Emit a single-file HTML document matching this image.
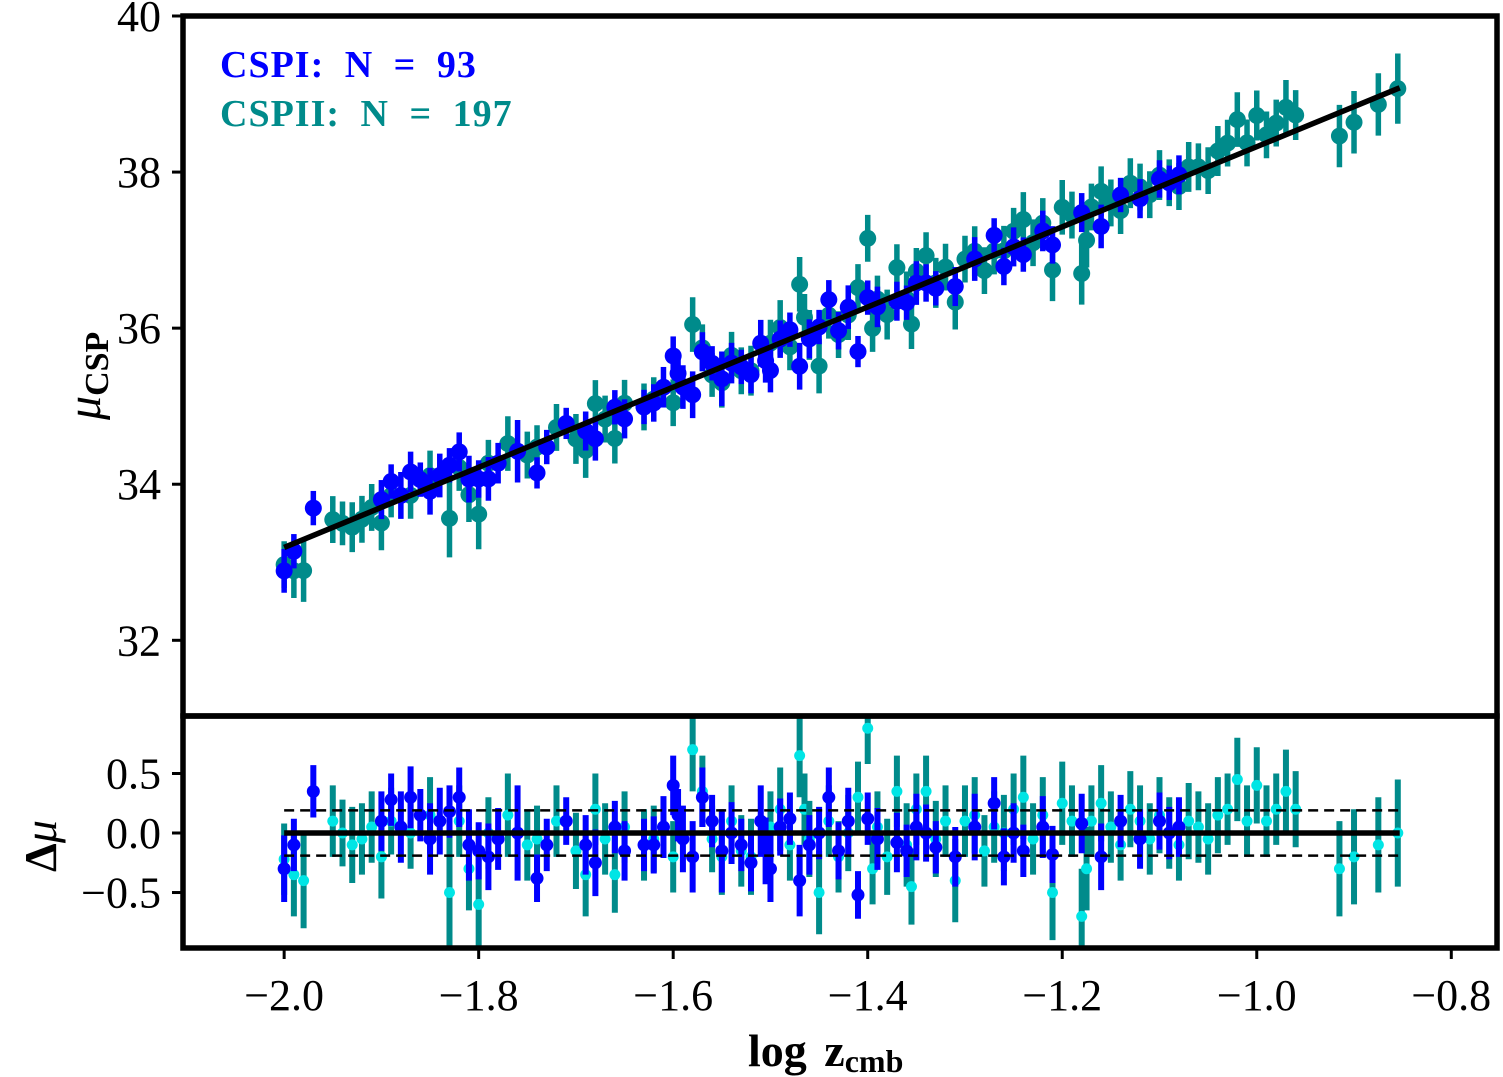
<!DOCTYPE html>
<html><head><meta charset="utf-8"><style>
html,body{margin:0;padding:0;background:#fff}
svg{display:block}
text{font-family:"Liberation Serif",serif}
</style></head><body>
<svg id="chart" width="1503" height="1077" viewBox="0 0 1503 1077" xmlns="http://www.w3.org/2000/svg"></svg>
<script>
const fitX=[-2.0,-0.853];
const fitMu=[33.19,39.08];
const xTicks=[-2.0,-1.8,-1.6,-1.4,-1.2,-1.0,-0.8];
const xTickLabels=["\u22122.0","\u22121.8","\u22121.6","\u22121.4","\u22121.2","\u22121.0","\u22120.8"];
const topTicks=[32,34,36,38,40];
const topTickLabels=["32","34","36","38","40"];
const botTicks=[0.5,0,-0.5];
const botTickLabels=["0.5","0.0","\u22120.5"];
const blueX=[-2.00,-1.99,-1.97,-1.90,-1.89,-1.88,-1.87,-1.86,-1.85,-1.84,-1.83,-1.82,-1.81,-1.80,-1.79,-1.78,-1.76,-1.74,-1.73,-1.71,-1.69,-1.68,-1.66,-1.65,-1.63,-1.62,-1.61,-1.60,-1.595,-1.59,-1.58,-1.57,-1.56,-1.55,-1.54,-1.53,-1.52,-1.51,-1.505,-1.50,-1.49,-1.48,-1.47,-1.46,-1.45,-1.44,-1.43,-1.42,-1.41,-1.40,-1.39,-1.37,-1.36,-1.35,-1.34,-1.33,-1.31,-1.29,-1.27,-1.26,-1.25,-1.24,-1.22,-1.21,-1.18,-1.16,-1.14,-1.12,-1.10,-1.09,-1.08];
const blueRes=[-0.30,-0.10,0.35,0.10,0.28,0.05,0.30,0.15,-0.05,0.10,0.18,0.30,-0.10,-0.15,-0.20,-0.05,0.00,-0.38,-0.10,0.10,-0.10,-0.25,0.05,-0.15,-0.10,-0.10,0.05,0.40,0.15,-0.05,-0.20,0.30,0.10,-0.15,0.00,-0.10,-0.25,0.10,-0.15,-0.30,0.05,0.12,-0.40,-0.10,0.00,0.30,-0.15,0.10,-0.52,0.12,-0.05,-0.08,-0.15,0.05,0.00,-0.12,-0.20,0.05,0.25,-0.20,0.00,-0.15,0.05,-0.18,0.08,-0.20,0.10,-0.05,0.10,0.00,0.05];
const blueErr=[0.28,0.22,0.22,0.25,0.22,0.30,0.26,0.22,0.30,0.28,0.22,0.25,0.30,0.24,0.28,0.26,0.40,0.20,0.22,0.20,0.25,0.28,0.22,0.25,0.22,0.24,0.26,0.25,0.22,0.28,0.30,0.25,0.22,0.35,0.26,0.22,0.24,0.30,0.28,0.28,0.24,0.22,0.30,0.25,0.22,0.25,0.24,0.28,0.20,0.22,0.26,0.25,0.22,0.28,0.24,0.22,0.25,0.28,0.22,0.24,0.25,0.22,0.26,0.24,0.25,0.28,0.22,0.25,0.24,0.22,0.25];
const tealX=[-2.00,-1.99,-1.98,-1.95,-1.94,-1.93,-1.92,-1.91,-1.90,-1.89,-1.87,-1.85,-1.83,-1.82,-1.81,-1.80,-1.79,-1.77,-1.75,-1.74,-1.72,-1.70,-1.69,-1.68,-1.67,-1.66,-1.65,-1.63,-1.62,-1.60,-1.58,-1.57,-1.56,-1.55,-1.54,-1.53,-1.52,-1.50,-1.49,-1.48,-1.47,-1.465,-1.46,-1.45,-1.44,-1.43,-1.42,-1.41,-1.40,-1.395,-1.39,-1.38,-1.37,-1.36,-1.355,-1.35,-1.34,-1.33,-1.32,-1.31,-1.30,-1.29,-1.28,-1.27,-1.26,-1.25,-1.24,-1.23,-1.22,-1.21,-1.20,-1.19,-1.18,-1.175,-1.17,-1.16,-1.15,-1.14,-1.13,-1.12,-1.11,-1.10,-1.09,-1.08,-1.07,-1.06,-1.05,-1.04,-1.03,-1.02,-1.01,-1.00,-0.99,-0.98,-0.97,-0.96,-0.915,-0.90,-0.875,-0.855];
const tealRes=[-0.22,-0.35,-0.40,0.10,0.00,-0.10,-0.05,0.05,-0.20,0.10,0.00,0.15,-0.50,0.10,-0.30,-0.60,0.00,0.15,-0.10,-0.05,0.10,-0.15,-0.35,0.20,-0.05,-0.35,0.05,-0.10,-0.05,-0.20,0.70,0.35,-0.05,-0.20,0.10,-0.15,-0.20,0.05,0.20,-0.10,0.65,0.20,-0.05,-0.50,0.10,-0.20,0.00,0.30,0.88,-0.30,0.05,-0.20,0.35,-0.10,-0.45,0.20,0.35,-0.05,0.10,-0.40,0.10,0.15,-0.15,0.05,0.00,0.20,0.30,-0.05,0.15,-0.50,0.25,0.10,-0.70,-0.30,0.10,0.25,0.05,-0.10,0.20,0.10,-0.05,0.15,0.00,-0.10,0.10,0.05,-0.05,0.15,0.20,0.45,0.10,0.40,0.10,0.20,0.35,0.20,-0.30,-0.20,-0.10,0.00];
const tealErr=[0.30,0.35,0.40,0.30,0.28,0.32,0.30,0.30,0.35,0.28,0.30,0.32,0.50,0.30,0.35,0.45,0.30,0.35,0.30,0.28,0.30,0.32,0.35,0.30,0.30,0.32,0.30,0.30,0.28,0.30,0.35,0.30,0.28,0.32,0.30,0.30,0.32,0.30,0.35,0.30,0.35,0.30,0.32,0.35,0.30,0.30,0.32,0.30,0.30,0.30,0.30,0.32,0.30,0.35,0.32,0.30,0.30,0.32,0.30,0.35,0.30,0.32,0.30,0.30,0.32,0.30,0.35,0.30,0.32,0.40,0.35,0.30,0.40,0.35,0.30,0.32,0.30,0.30,0.32,0.30,0.30,0.32,0.30,0.30,0.32,0.30,0.30,0.32,0.30,0.35,0.30,0.32,0.30,0.30,0.35,0.32,0.40,0.40,0.40,0.45];

const NS="http://www.w3.org/2000/svg";
const svg=document.getElementById('chart');
const L=183,R=1497,T1=16,B1=716,B2=948;
const xMin=-2.104,xMax=-0.753;
const sx=v=>L+(v-xMin)/(xMax-xMin)*(R-L);
const syTop=v=>T1+(40-v)/(40-31.03)*(B1-T1);
const syBot=v=>B1+(0.983-v)/(0.983+0.966)*(B2-B1);
const lineMu=x=>fitMu[0]+(x-fitX[0])*(fitMu[1]-fitMu[0])/(fitX[1]-fitX[0]);
function mk(tag,attrs,parent){const e=document.createElementNS(NS,tag);for(const k in attrs)e.setAttribute(k,attrs[k]);(parent||svg).appendChild(e);return e;}

const defs=mk('defs',{});
const c1=mk('clipPath',{id:'c1'},defs);mk('rect',{x:L,y:T1,width:R-L,height:B1-T1},c1);
const c2=mk('clipPath',{id:'c2'},defs);mk('rect',{x:L,y:B1,width:R-L,height:B2-B1},c2);
const gTop=mk('g',{'clip-path':'url(#c1)'});


const gBot=mk('g',{'clip-path':'url(#c2)'});



function drawSeries(xs,res,errs,bar,mark,name){
  for(let i=0;i<xs.length;i++){
    const x=sx(xs[i]),mu=lineMu(xs[i])+res[i];
    const b=mk('line',{x1:x,x2:x,y1:syTop(mu+errs[i]),y2:syTop(mu-errs[i]),stroke:bar,'stroke-width':5.5},gTop);
    
    
    const p=mk('circle',{cx:x,cy:syTop(mu),r:8.5,fill:mark},gTop);
    
    
  }
}
function drawRes(xs,res,errs,bar,botMark,botR,name){
  for(let i=0;i<xs.length;i++){
    const x=sx(xs[i]);
    const b=mk('line',{x1:x,x2:x,y1:syBot(res[i]+errs[i]),y2:syBot(res[i]-errs[i]),stroke:bar,'stroke-width':6},gBot);
    
    
    const p=mk('circle',{cx:x,cy:syBot(res[i]),r:botR,fill:botMark},gBot);
    
    
  }
}
drawSeries(tealX,tealRes,tealErr,'#008b8b','#008b8b','cspii');
drawSeries(blueX,blueRes,blueErr,'#0000ff','#0000ff','cspi');
const fl=mk('line',{x1:sx(fitX[0]),y1:syTop(fitMu[0]),x2:sx(fitX[1]),y2:syTop(fitMu[1]),stroke:'#000','stroke-width':5.5},gTop);



drawRes(tealX,tealRes,tealErr,'#008b8b','#00e5e5',5.5,'cspii');
drawRes(blueX,blueRes,blueErr,'#0000ff','#0000ff',6.5,'cspi');
const z=mk('line',{x1:sx(-2.0),x2:sx(-0.853),y1:syBot(0),y2:syBot(0),stroke:'#000','stroke-width':5.5},gBot);


[0.19,-0.19].forEach(v=>{
  const d=mk('line',{x1:sx(-2.0),x2:sx(-0.853),y1:syBot(v),y2:syBot(v),stroke:'#000','stroke-width':2.5,'stroke-dasharray':'10,6'},gBot);
  
  
});

const f1=mk('rect',{x:L,y:T1,width:R-L,height:B1-T1,fill:'none',stroke:'#000','stroke-width':5.5});


const f2=mk('rect',{x:L,y:B1,width:R-L,height:B2-B1,fill:'none',stroke:'#000','stroke-width':5.5});



topTicks.forEach((v,i)=>{
  const y=syTop(v);
  const t=mk('line',{x1:L-11,x2:L,y1:y,y2:y,stroke:'#000','stroke-width':3});
  
  
  const tx=mk('text',{x:L-22,y:y+15,'text-anchor':'end','font-size':44});
  tx.textContent=topTickLabels[i];
  
  
});
botTicks.forEach((v,i)=>{
  const y=syBot(v);
  const t=mk('line',{x1:L-11,x2:L,y1:y,y2:y,stroke:'#000','stroke-width':3});
  
  
  const tx=mk('text',{x:L-22,y:y+15,'text-anchor':'end','font-size':44});
  tx.textContent=botTickLabels[i];
  
  
});
xTicks.forEach((v,i)=>{
  const x=sx(v);
  const t=mk('line',{x1:x,x2:x,y1:B2,y2:B2+11,stroke:'#000','stroke-width':3});
  
  
  const tx=mk('text',{x:x,y:1010,'text-anchor':'middle','font-size':44});
  tx.textContent=xTickLabels[i];
  
  
});
</script>
<svg style="position:absolute;left:0;top:0" width="1503" height="1077">
<text x="748" y="1066" font-size="46" font-weight="bold" font-family="Liberation Serif, serif" word-spacing="6">log z<tspan font-size="32" dy="6">cmb</tspan></text>
<text transform="translate(100,420) rotate(-90)" font-size="48" font-family="Liberation Serif, serif"><tspan font-style="italic">μ</tspan><tspan font-size="34" font-weight="bold" dy="8">CSP</tspan></text>
<text transform="translate(56,872) rotate(-90)" font-size="46" font-weight="bold" font-family="Liberation Serif, serif">Δ<tspan font-style="italic" font-weight="normal">μ</tspan></text>
<text x="220" y="77" font-size="38" font-weight="bold" fill="#0000ff" font-family="Liberation Serif, serif" word-spacing="10" letter-spacing="1">CSPI: N = 93</text>
<text x="220" y="126" font-size="38" font-weight="bold" fill="#008b8b" font-family="Liberation Serif, serif" word-spacing="10" letter-spacing="1">CSPII: N = 197</text>
</svg>
</body></html>
